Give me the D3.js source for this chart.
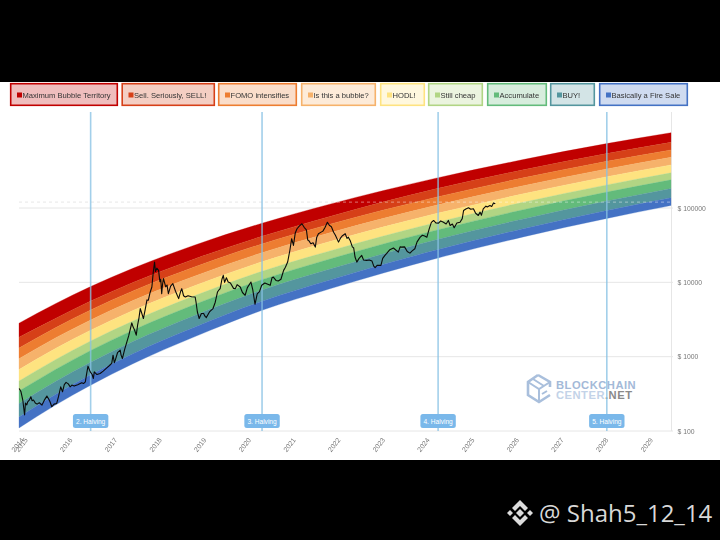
<!DOCTYPE html>
<html><head><meta charset="utf-8">
<script src="https://cdnjs.cloudflare.com/ajax/libs/d3/7.8.5/d3.min.js"></script>
<style>html,body{margin:0;padding:0;background:#000}svg{display:block}text{font-family:"Liberation Sans",Arial,sans-serif}</style>
</head><body><svg id="c" width="720" height="540"></svg>
<script>
const legendLabels=["Maximum Bubble Territory","Sell. Seriously, SELL!","FOMO intensifies","Is this a bubble?","HODL!","Still cheap","Accumulate","BUY!","Basically a Fire Sale"];
const bandColors=["#c00000","#d64018","#ed7d31","#f6b26b","#fee380","#b1d584","#63bb7b","#54969e","#4472c4"];
const bandDates=["2014-12-01","2015-09-25","2016-07-05","2017-06-20","2018-11-10","2020-05-11","2021-11-17","2024-04-12","2026-03-08","2028-01-30","2029-07-08"];
const edge0=[2820,5160,8710,15450,31800,62400,112700,254000,445000,735000,1030000];
const edge1=[1828,3250,5550,9950,20800,41600,77000,182400,323600,539500,763800];
const edge2=[1306,2449,4227,7674,16220,32890,60530,140900,252300,424600,603900];
const edge3=[940,1786,3097,5689,12190,25060,46450,109600,197700,335700,480800];
const edge4=[671,1288,2254,4178,9057,18920,35400,84720,154200,263600,380200];
const edge5=[470,912,1611,3020,6637,14090,26490,64420,118600,204600,297200];
const edge6=[344,673,1202,2275,5058,10860,20610,50700,94190,163700,239300];
const edge7=[234,463,836,1600,3606,7889,15070,37760,70790,124200,182800];
const edge8=[154,310,565,1096,2506,5585,10790,27420,52120,92470,137100];
const edge9=[110,223,410,803,1862,4207,8180,21130,40550,72440,108000];
const edges=[edge0,edge1,edge2,edge3,edge4,edge5,edge6,edge7,edge8,edge9];
const priceYears=[2014.92,2014.96,2015.00,2015.04,2015.06,2015.09,2015.11,2015.15,2015.18,2015.21,2015.24,2015.28,2015.32,2015.37,2015.43,2015.48,2015.54,2015.58,2015.61,2015.65,2015.70,2015.76,2015.80,2015.85,2015.89,2015.93,2015.97,2016.02,2016.06,2016.10,2016.15,2016.23,2016.32,2016.36,2016.40,2016.43,2016.46,2016.51,2016.55,2016.58,2016.60,2016.66,2016.73,2016.80,2016.88,2016.94,2016.99,2017.02,2017.05,2017.07,2017.12,2017.18,2017.20,2017.23,2017.28,2017.33,2017.37,2017.41,2017.44,2017.47,2017.50,2017.54,2017.57,2017.60,2017.63,2017.66,2017.70,2017.74,2017.78,2017.81,2017.85,2017.89,2017.92,2017.95,2017.97,2018.00,2018.04,2018.07,2018.09,2018.11,2018.13,2018.15,2018.20,2018.23,2018.26,2018.31,2018.36,2018.42,2018.49,2018.53,2018.56,2018.60,2018.64,2018.70,2018.78,2018.86,2018.88,2018.91,2018.95,2019.00,2019.05,2019.08,2019.11,2019.18,2019.26,2019.31,2019.36,2019.40,2019.42,2019.46,2019.49,2019.52,2019.56,2019.60,2019.65,2019.72,2019.76,2019.80,2019.87,2019.92,2019.98,2020.03,2020.11,2020.15,2020.20,2020.25,2020.30,2020.35,2020.42,2020.54,2020.58,2020.61,2020.67,2020.72,2020.78,2020.84,2020.88,2020.93,2020.98,2021.02,2021.06,2021.10,2021.14,2021.19,2021.25,2021.30,2021.35,2021.38,2021.40,2021.45,2021.50,2021.55,2021.58,2021.62,2021.67,2021.72,2021.77,2021.82,2021.87,2021.91,2021.96,2022.00,2022.07,2022.11,2022.15,2022.22,2022.26,2022.29,2022.33,2022.38,2022.41,2022.44,2022.48,2022.53,2022.59,2022.63,2022.70,2022.76,2022.82,2022.86,2022.89,2022.94,2023.02,2023.06,2023.11,2023.15,2023.22,2023.30,2023.36,2023.41,2023.45,2023.48,2023.55,2023.61,2023.67,2023.72,2023.78,2023.83,2023.90,2023.95,2024.00,2024.05,2024.10,2024.15,2024.20,2024.25,2024.31,2024.36,2024.42,2024.48,2024.53,2024.57,2024.62,2024.66,2024.72,2024.79,2024.84,2024.87,2024.92,2024.98,2025.03,2025.09,2025.14,2025.20,2025.24,2025.27,2025.31,2025.37,2025.40,2025.46,2025.50,2025.54,2025.58];
const priceValues=[374,337,261,164,238,225,247,262,289,255,261,238,230,240,223,258,295,270,247,212,230,235,290,393,337,420,451,430,393,415,402,420,445,435,459,590,745,625,580,509,625,575,594,640,708,760,811,1047,830,897,1130,1222,1050,946,1250,1581,1900,2393,2844,2500,2300,1945,2649,3300,4436,3900,3258,4300,5800,5730,7300,8650,13500,18720,14000,15500,14490,10200,11000,7050,9500,11220,8700,9200,7050,8900,9610,7600,6040,7400,8220,6600,6350,6600,6400,6350,5400,3990,3260,3800,3800,3500,3360,4000,4440,5400,7410,8000,8230,11000,12420,10000,11500,10090,9800,8300,8230,9300,8650,7300,6700,8500,10090,8000,5070,7000,7500,9120,9800,9120,11500,11780,10600,10400,11000,14490,16000,18720,27000,38640,31400,46000,52600,57000,61400,55000,50900,37000,36640,33000,34000,29800,40000,45100,47000,48850,55000,64400,58000,56000,47300,43000,34750,39000,42000,45100,39000,40500,36640,30000,29000,21880,18720,21000,23030,20000,19720,20000,19320,16500,15750,17000,16900,21000,23030,24500,27480,29000,27000,25530,30000,29800,30000,26000,24720,26500,28310,35000,40550,43000,42000,40550,52000,64000,67900,63000,62500,67000,64400,61000,68000,58200,61000,54200,63000,64400,72000,92500,97000,100700,96000,97500,85000,79300,88000,80000,97500,106000,103000,108000,105000,117000,113800];
const halvingLabels=["2. Halving","3. Halving","4. Halving","5. Halving"];
const halvingDates=["2016-07-09","2020-05-11","2024-04-20","2028-01-30"];
const yTicks=[100,1000,10000,100000];
const xTickLabels=["2014","2015","2016","2017","2018","2019","2020","2021","2022","2023","2024","2025","2026","2027","2028","2029"];
const xTickDates=["2014-12-01","2015-01-01","2016-01-01","2017-01-01","2018-01-01","2019-01-01","2020-01-01","2021-01-01","2022-01-01","2023-01-01","2024-01-01","2025-01-01","2026-01-01","2027-01-01","2028-01-01","2029-01-01"];
const athValue=120000;

const svg=d3.select("#c");
const L=19,R=671,T=112,B=431;
const pd=d3.utcParse("%Y-%m-%d");
const yearDate=y=>{const f=Math.floor(y);const a=Date.UTC(f,0,1),b=Date.UTC(f+1,0,1);return new Date(a+(y-f)*(b-a));};
const x=d3.scaleUtc().domain([pd(bandDates[0]),pd(bandDates[bandDates.length-1])]).range([L,R]);
const y=d3.scaleLog().domain([100,100000]).range([B,208]);

svg.append("rect").attr("width",720).attr("height",540).attr("fill","#000");
svg.append("rect").attr("y",82).attr("width",720).attr("height",378).attr("fill","#fff");

// legend
const boxX=[10,121.5,218,301,380,428,487,550,599], boxW=[108,93.5,79,75,45,55,60,45,89];
const lg=svg.append("g").selectAll("g").data(legendLabels).join("g").attr("transform",(d,i)=>`translate(${boxX[i]},83)`);
lg.append("rect").attr("x",.7).attr("y",.7).attr("width",(d,i)=>boxW[i]-1.4).attr("height",21.6)
  .attr("fill",(d,i)=>bandColors[i]).attr("fill-opacity",.26).attr("stroke",(d,i)=>bandColors[i]).attr("stroke-width",1.6);
lg.append("rect").attr("x",7).attr("y",9.5).attr("width",5).attr("height",5).attr("fill",(d,i)=>bandColors[i]);
lg.append("text").attr("x",12.5).attr("y",14.7).attr("font-size",7.6).attr("fill","#333").style("filter","grayscale(1)").text(d=>d);

// grid
const grid=svg.append("g");
grid.selectAll("line.h").data(yTicks).join("line").attr("x1",L).attr("x2",673).attr("y1",d=>y(d)).attr("y2",d=>y(d)).attr("stroke","#e6e6e6");
grid.append("line").attr("x1",671.5).attr("x2",671.5).attr("y1",T).attr("y2",B).attr("stroke","#e6e6e6");
svg.append("line").attr("x1",L).attr("x2",R).attr("y1",y(athValue)).attr("y2",y(athValue)).attr("stroke","#dcdcdc").attr("stroke-dasharray","3,3").attr("stroke-width",.9);

// bands
const dates=bandDates.map(d=>pd(d));
const area=d3.area().x(d=>x(d.t)).y0(d=>y(d.lo)).y1(d=>y(d.hi)).curve(d3.curveMonotoneX);
bandColors.forEach((c,i)=>{
  const rows=dates.map((t,k)=>({t,hi:edges[i][k],lo:edges[i+1][k]}));
  svg.append("path").attr("d",area(rows)).attr("fill",c).attr("stroke",c).attr("stroke-width",.3);
});

// ATH dashed over the bands
svg.append("line").attr("x1",L).attr("x2",R).attr("y1",y(athValue)).attr("y2",y(athValue)).attr("stroke","#ffffff").attr("stroke-opacity",.5).attr("stroke-dasharray","3,3").attr("stroke-width",.9);

// logo
const logo=svg.append("g").attr("transform","translate(526,373)").attr("fill","none").attr("stroke","#a9bfdc").attr("stroke-width",2.6);
logo.append("path").attr("d","M12 2 L24 9 L24 14 M24 22 L13 29 L2 22 L2 9 L12 2");
logo.append("path").attr("d","M2 9 L13 16 L24 9 M13 16 L13 29").attr("stroke-width",2);
logo.append("path").attr("d","M7 6 L18 13 M16 21 L21 18").attr("stroke-width",2);
svg.append("text").attr("x",556).attr("y",388.5).attr("font-size",11.2).attr("font-weight",700).attr("fill","#a3b9d8").attr("letter-spacing",.5).text("BLOCKCHAIN");
const t2=svg.append("text").attr("x",556).attr("y",398.5).attr("font-size",11.2).attr("font-weight",700).attr("letter-spacing",.5);
t2.append("tspan").attr("fill","#c3d3e8").text("CENTER");
t2.append("tspan").attr("fill","#8a8a8a").text(".NET");

// halvings
halvingDates.forEach((d,i)=>{
  const hx=x(pd(d));
  svg.append("line").attr("x1",hx).attr("x2",hx).attr("y1",T).attr("y2",B).attr("stroke","#88c2e4").attr("stroke-opacity",.78).attr("stroke-width",1.6);
  svg.append("rect").attr("x",hx-17.7).attr("y",414).attr("width",35.4).attr("height",14).attr("rx",2.5).attr("fill","#7ab8ea");
  svg.append("text").attr("x",hx).attr("y",423.5).attr("text-anchor","middle").attr("font-size",6.6).attr("fill","#fff").text(halvingLabels[i]);
});

// price
const line=d3.line().x(d=>x(yearDate(d[0]))).y(d=>y(d[1]));
svg.append("path").attr("d",line(priceYears.map((v,i)=>[v,priceValues[i]]))).attr("fill","none").attr("stroke","#0a0a0a").attr("stroke-width",1.1).attr("stroke-linejoin","round");

// axes
const xa=d3.axisBottom(x).tickValues(xTickDates.map(d=>pd(d))).tickFormat((d,i)=>xTickLabels[i]).tickSize(0);
const gx=svg.append("g").attr("transform",`translate(0,${B})`).style("filter","grayscale(1)").call(xa);
gx.select(".domain").remove();
gx.selectAll("text").attr("font-size",7).attr("fill","#777").attr("text-anchor","middle")
  .attr("transform","translate(-1.5,14) rotate(-52)").attr("x",0).attr("y",0).attr("dy","0.3em");
const ya=d3.axisRight(y).tickValues(yTicks).tickFormat(d=>"$ "+d).tickSize(0).tickPadding(0);
const gy=svg.append("g").attr("transform","translate(677.5,0)").style("filter","grayscale(1)").call(ya);
gy.select(".domain").remove();
gy.selectAll("text").attr("font-size",6.8).attr("fill","#777").attr("x",0);

// watermark
const wm=svg.append("g").attr("transform","translate(520,513)").attr("fill","#dcdcdc");
wm.selectAll("path").data([
 "M0 -4 L4 0 L0 4 L-4 0Z",
 "M-10 -3 L-7 0 L-10 3 L-13 0Z",
 "M10 -3 L13 0 L10 3 L7 0Z",
 "M0 -13 L8 -5 L5 -2 L0 -7 L-5 -2 L-8 -5Z",
 "M0 13 L-8 5 L-5 2 L0 7 L5 2 L8 5Z"
]).join("path").attr("d",d=>d);
svg.append("text").attr("x",539).attr("y",522).attr("font-size",24).attr("fill","#d8d8d8").style("font-family","'Open Sans',sans-serif").text("@ Shah5_12_14");
</script></body></html>
